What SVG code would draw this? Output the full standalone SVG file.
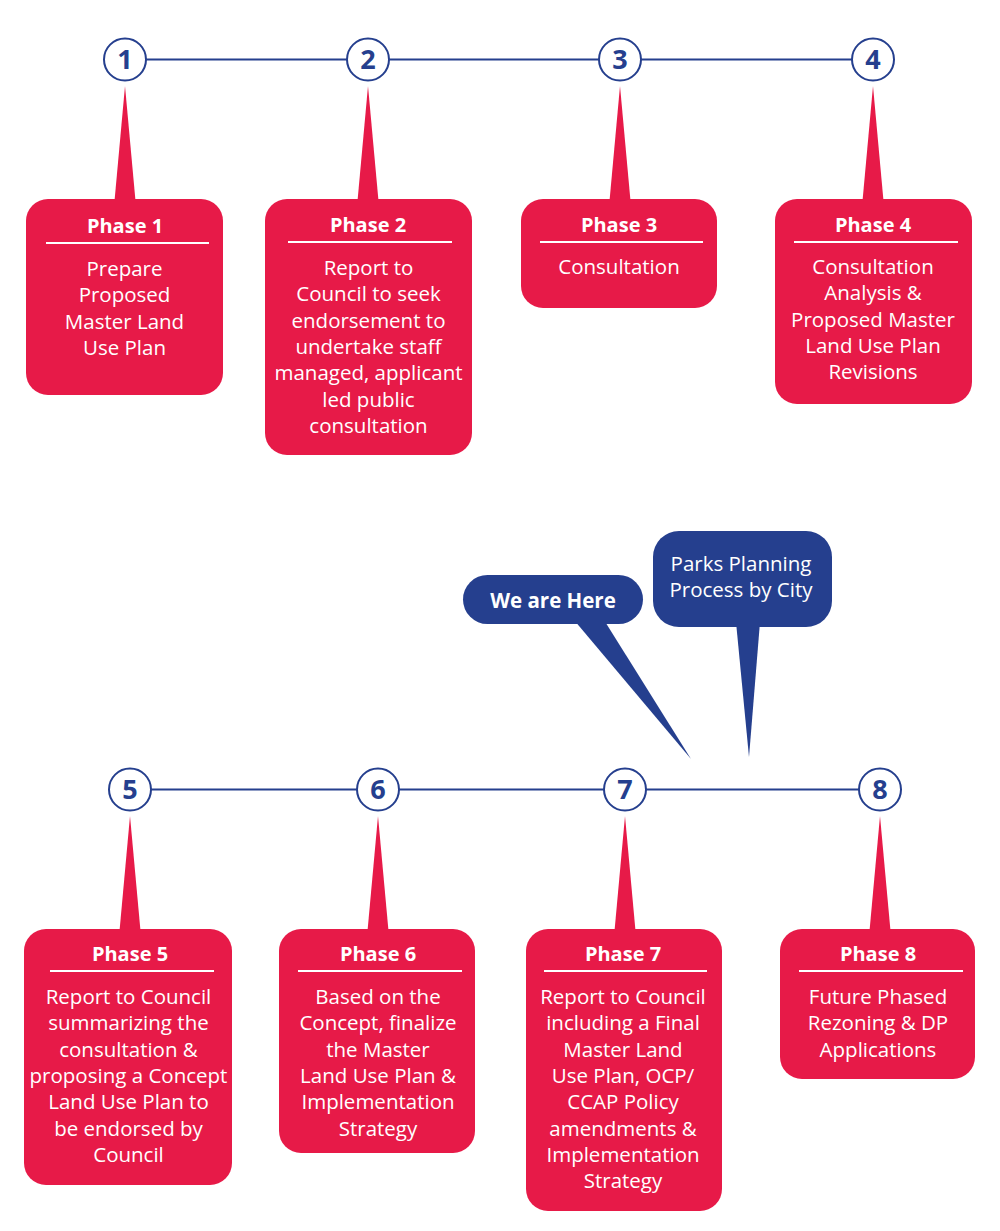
<svg xmlns="http://www.w3.org/2000/svg" width="1000" height="1231" viewBox="0 0 1000 1231">
<style>
.box{fill:#E71A48}
.spike{fill:#E71A48}
.hdr{font-family:"Open Sans","Noto Sans",sans-serif;font-size:20px;font-weight:bold;fill:#fff;text-anchor:middle}
.body{font-family:"Open Sans","Noto Sans",sans-serif;font-size:20.5px;fill:#fff;text-anchor:middle}
.rule{stroke:#fff;stroke-width:2}
.circ{fill:#fff;stroke:#253F8E;stroke-width:2}
.num{font-family:"Open Sans","Noto Sans",sans-serif;font-size:27px;font-weight:bold;fill:#253F8E;text-anchor:middle}
.tl{stroke:#253F8E;stroke-width:2;fill:none}
.call{fill:#253F8E}
.ctext{font-family:"Open Sans","Noto Sans",sans-serif;font-size:20.5px;fill:#fff;text-anchor:middle}
</style>
<rect width="1000" height="1231" fill="#fff"/>
<g id="connectors">
<line class="tl" x1="125" y1="59.5" x2="873" y2="59.5"/>
<line class="tl" x1="130" y1="789.5" x2="880" y2="789.5"/>
<polygon class="spike" points="125,86 114.5,201 135.5,201"/>
<polygon class="spike" points="368,86 357.5,201 378.5,201"/>
<polygon class="spike" points="620,86 609.5,201 630.5,201"/>
<polygon class="spike" points="873,86 862.5,201 883.5,201"/>
<polygon class="spike" points="130,816 119.5,931 140.5,931"/>
<polygon class="spike" points="378,816 367.5,931 388.5,931"/>
<polygon class="spike" points="625,816 614.5,931 635.5,931"/>
<polygon class="spike" points="880,816 869.5,931 890.5,931"/>
</g>
<g id="step1"><circle class="circ" cx="125" cy="59.5" r="21"/><text class="num" x="125" y="69">1</text></g>
<g id="step2"><circle class="circ" cx="368" cy="59.5" r="21"/><text class="num" x="368" y="69">2</text></g>
<g id="step3"><circle class="circ" cx="620" cy="59.5" r="21"/><text class="num" x="620" y="69">3</text></g>
<g id="step4"><circle class="circ" cx="873" cy="59.5" r="21"/><text class="num" x="873" y="69">4</text></g>
<g id="step5"><circle class="circ" cx="130" cy="789.5" r="21"/><text class="num" x="130" y="799">5</text></g>
<g id="step6"><circle class="circ" cx="378" cy="789.5" r="21"/><text class="num" x="378" y="799">6</text></g>
<g id="step7"><circle class="circ" cx="625" cy="789.5" r="21"/><text class="num" x="625" y="799">7</text></g>
<g id="step8"><circle class="circ" cx="880" cy="789.5" r="21"/><text class="num" x="880" y="799">8</text></g>

<g id="phase1">
<rect class="box" x="26" y="199" width="197" height="196" rx="22"/>
<text class="hdr" x="125" y="233">Phase 1</text>
<line class="rule" x1="46" y1="243" x2="209" y2="243"/>
<text class="body" x="124.5"><tspan x="124.5" y="276">Prepare</tspan><tspan x="124.5" y="302.3">Proposed</tspan><tspan x="124.5" y="328.6">Master Land</tspan><tspan x="124.5" y="354.9">Use Plan</tspan></text>
</g>
<g id="phase2">
<rect class="box" x="265" y="199" width="207" height="256" rx="22"/>
<text class="hdr" x="368" y="232">Phase 2</text>
<line class="rule" x1="288" y1="242" x2="452" y2="242"/>
<text class="body"><tspan x="368.5" y="275">Report to</tspan><tspan x="368.5" y="301.3">Council to seek</tspan><tspan x="368.5" y="327.6">endorsement to</tspan><tspan x="368.5" y="353.9">undertake staff</tspan><tspan x="368.5" y="380.2">managed, applicant</tspan><tspan x="368.5" y="406.5">led public</tspan><tspan x="368.5" y="432.8">consultation</tspan></text>
</g>
<g id="phase3">
<rect class="box" x="521" y="199" width="196" height="109" rx="22"/>
<text class="hdr" x="619" y="232">Phase 3</text>
<line class="rule" x1="540" y1="242" x2="703" y2="242"/>
<text class="body"><tspan x="619" y="274">Consultation</tspan></text>
</g>
<g id="phase4">
<rect class="box" x="775" y="199" width="197" height="205" rx="22"/>
<text class="hdr" x="873" y="232">Phase 4</text>
<line class="rule" x1="794" y1="242" x2="958" y2="242"/>
<text class="body"><tspan x="873" y="274">Consultation</tspan><tspan x="873" y="300.3">Analysis &amp;</tspan><tspan x="873" y="326.6">Proposed Master</tspan><tspan x="873" y="352.9">Land Use Plan</tspan><tspan x="873" y="379.2">Revisions</tspan></text>
</g>
<g id="phase5">
<rect class="box" x="24" y="929" width="208" height="256" rx="22"/>
<text class="hdr" x="130" y="961">Phase 5</text>
<line class="rule" x1="50" y1="971" x2="214" y2="971"/>
<text class="body"><tspan x="128.5" y="1004">Report to Council</tspan><tspan x="128.5" y="1030.3">summarizing the</tspan><tspan x="128.5" y="1056.6">consultation &amp;</tspan><tspan x="128.5" y="1082.9">proposing a Concept</tspan><tspan x="128.5" y="1109.2">Land Use Plan to</tspan><tspan x="128.5" y="1135.5">be endorsed by</tspan><tspan x="128.5" y="1161.8">Council</tspan></text>
</g>
<g id="phase6">
<rect class="box" x="279" y="929" width="196" height="224" rx="22"/>
<text class="hdr" x="378" y="961">Phase 6</text>
<line class="rule" x1="298" y1="971" x2="462" y2="971"/>
<text class="body"><tspan x="378" y="1004">Based on the</tspan><tspan x="378" y="1030.3">Concept, finalize</tspan><tspan x="378" y="1056.6">the Master</tspan><tspan x="378" y="1082.9">Land Use Plan &amp;</tspan><tspan x="378" y="1109.2">Implementation</tspan><tspan x="378" y="1135.5">Strategy</tspan></text>
</g>
<g id="phase7">
<rect class="box" x="526" y="929" width="196" height="282" rx="22"/>
<text class="hdr" x="623" y="961">Phase 7</text>
<line class="rule" x1="544" y1="971" x2="707" y2="971"/>
<text class="body"><tspan x="623" y="1004">Report to Council</tspan><tspan x="623" y="1030.3">including a Final</tspan><tspan x="623" y="1056.6">Master Land</tspan><tspan x="623" y="1082.9">Use Plan, OCP/</tspan><tspan x="623" y="1109.2">CCAP Policy</tspan><tspan x="623" y="1135.5">amendments &amp;</tspan><tspan x="623" y="1161.8">Implementation</tspan><tspan x="623" y="1188.1">Strategy</tspan></text>
</g>
<g id="phase8">
<rect class="box" x="780" y="929" width="195" height="150" rx="22"/>
<text class="hdr" x="878" y="961">Phase 8</text>
<line class="rule" x1="799" y1="971" x2="963" y2="971"/>
<text class="body"><tspan x="878" y="1004">Future Phased</tspan><tspan x="878" y="1030.3">Rezoning &amp; DP</tspan><tspan x="878" y="1056.6">Applications</tspan></text>
</g>

<g id="callout-here">
<polygon class="call" points="574,620 604,620 691,759"/>
<rect class="call" x="463" y="575" width="180" height="49" rx="24.5"/>
<text class="ctext" x="553" y="608" font-weight="bold" font-size="20px">We are Here</text>
</g>
<g id="callout-parks">
<polygon class="call" points="736,622 760,622 749,757"/>
<rect class="call" x="653" y="531" width="179" height="96" rx="26"/>
<text class="ctext"><tspan x="741" y="571">Parks Planning</tspan><tspan x="741" y="597">Process by City</tspan></text>
</g>
</svg>
